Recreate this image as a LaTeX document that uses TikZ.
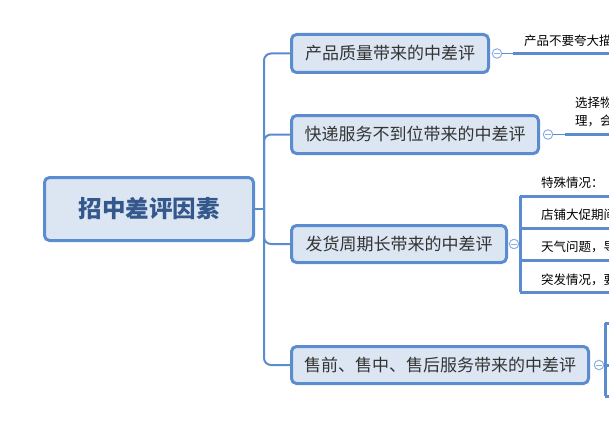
\documentclass[tikz,border=0pt]{standalone}
\usepackage{fontspec}
\setmainfont{Noto Sans CJK SC}
\usetikzlibrary{positioning,calc}
\definecolor{xline}{HTML}{5B8CCF}
\definecolor{xfill}{HTML}{DCE6F2}
\definecolor{xroot}{HTML}{34588C}
\tikzset{
  topic/.style={draw=xline, line width=3pt, fill=xfill, rounded corners=5pt, inner sep=0pt, text=black!80},
  branch/.style={draw=xline, line width=2pt, rounded corners=7pt},
  fold/.style={circle, draw=xline!70, fill=white, line width=1pt, minimum size=9.5pt, inner sep=0pt},
  under/.style={draw=xline, line width=3pt},
  note/.style={anchor=west, inner sep=0pt, font=\fontsize{12.5}{16}\selectfont, align=left}
}
\begin{document}
\begin{tikzpicture}[x=1pt,y=-1pt]
\useasboundingbox (0,0) rectangle (609,425);
\clip (0,0) rectangle (609,425);
% root and main topics
\node[topic, minimum width=209pt, minimum height=63pt, text=xroot, font=\fontsize{23.5}{28}\selectfont\bfseries] (root) at (149,209) {招中差评因素};
\node[topic, minimum width=197pt, minimum height=38pt, font=\fontsize{17}{20}\selectfont] (quality) at (390,53.5) {产品质量带来的中差评};
\node[topic, minimum width=247pt, minimum height=38pt, font=\fontsize{17}{20}\selectfont] (express) at (415,134.5) {快递服务不到位带来的中差评};
\node[topic, minimum width=215pt, minimum height=37pt, font=\fontsize{17}{20}\selectfont] (delivery) at (399,244) {发货周期长带来的中差评};
\node[topic, minimum width=297pt, minimum height=37pt, font=\fontsize{17}{20}\selectfont] (service) at (440,365) {售前、售中、售后服务带来的中差评};
% trunk
\coordinate (hub) at (264,209);
\draw[branch] (root.east) -- (hub);
\draw[branch] (hub) -- (264,53.5) -- (quality.west);
\draw[branch] (hub) -- (264,134.5) -- (express.west);
\draw[branch] (hub) -- (264,244) -- (delivery.west);
\draw[branch] (hub) -- (264,365) -- (service.west);
% fold markers
\node[fold] (f1) at (497,53.5) {};
\node[fold] (f2) at (548,134.5) {};
\node[fold] (f3) at (514,244) {};
\node[fold] (f4) at (599,365) {};
\foreach \f in {f1,f2,f3,f4}
  \draw[xline!70, line width=0.8pt] ($(\f.center)+(-2.8,0)$) -- ($(\f.center)+(2.8,0)$);
% branch 1
\coordinate (q1) at (513,53.5);
\draw[xline, line width=1.5pt] (f1.east) -- (q1);
\draw[under] (q1) -- (620,53.5);
\node[note] (t1) at (524,41) {产品不要夸大描述};
% branch 2
\coordinate (e1) at (565,134.5);
\draw[xline, line width=1.5pt] (f2.east) -- (e1);
\draw[under] (e1) -- (620,134.5);
\node[note] (t2) at (575,103) {选择物流};
\node[note] (t3) at (575,121) {理，会};
% branch 3
\coordinate (d0) at (520,244);
\coordinate (d1) at (520,196);
\coordinate (d2) at (520,228);
\coordinate (d3) at (520,260);
\coordinate (d4) at (520,292);
\draw[xline, line width=1.5pt] (f3.east) -- (d0);
\draw[under] (d1) -- (d4);
\foreach \d in {d1,d2,d3,d4}
  \draw[under] (\d) -- ++(100,0);
\node[note] (s1) at (541,183) {特殊情况：};
\node[note] (s2) at (541,215) {店铺大促期间};
\node[note] (s3) at (541,247) {天气问题，导致};
\node[note] (s4) at (541,280) {突发情况，要};
% branch 4
\coordinate (v0) at (605,365);
\coordinate (v1) at (605,323);
\coordinate (v2) at (605,396);
\draw[xline, line width=1.5pt] (f4.east) -- (v0);
\draw[under] (v1) -- (v2);
\draw[under] (v1) -- ++(10,0);
\draw[under] (v0) -- ++(10,0);
\draw[under] (v2) -- ++(10,0);
\end{tikzpicture}
\end{document}
